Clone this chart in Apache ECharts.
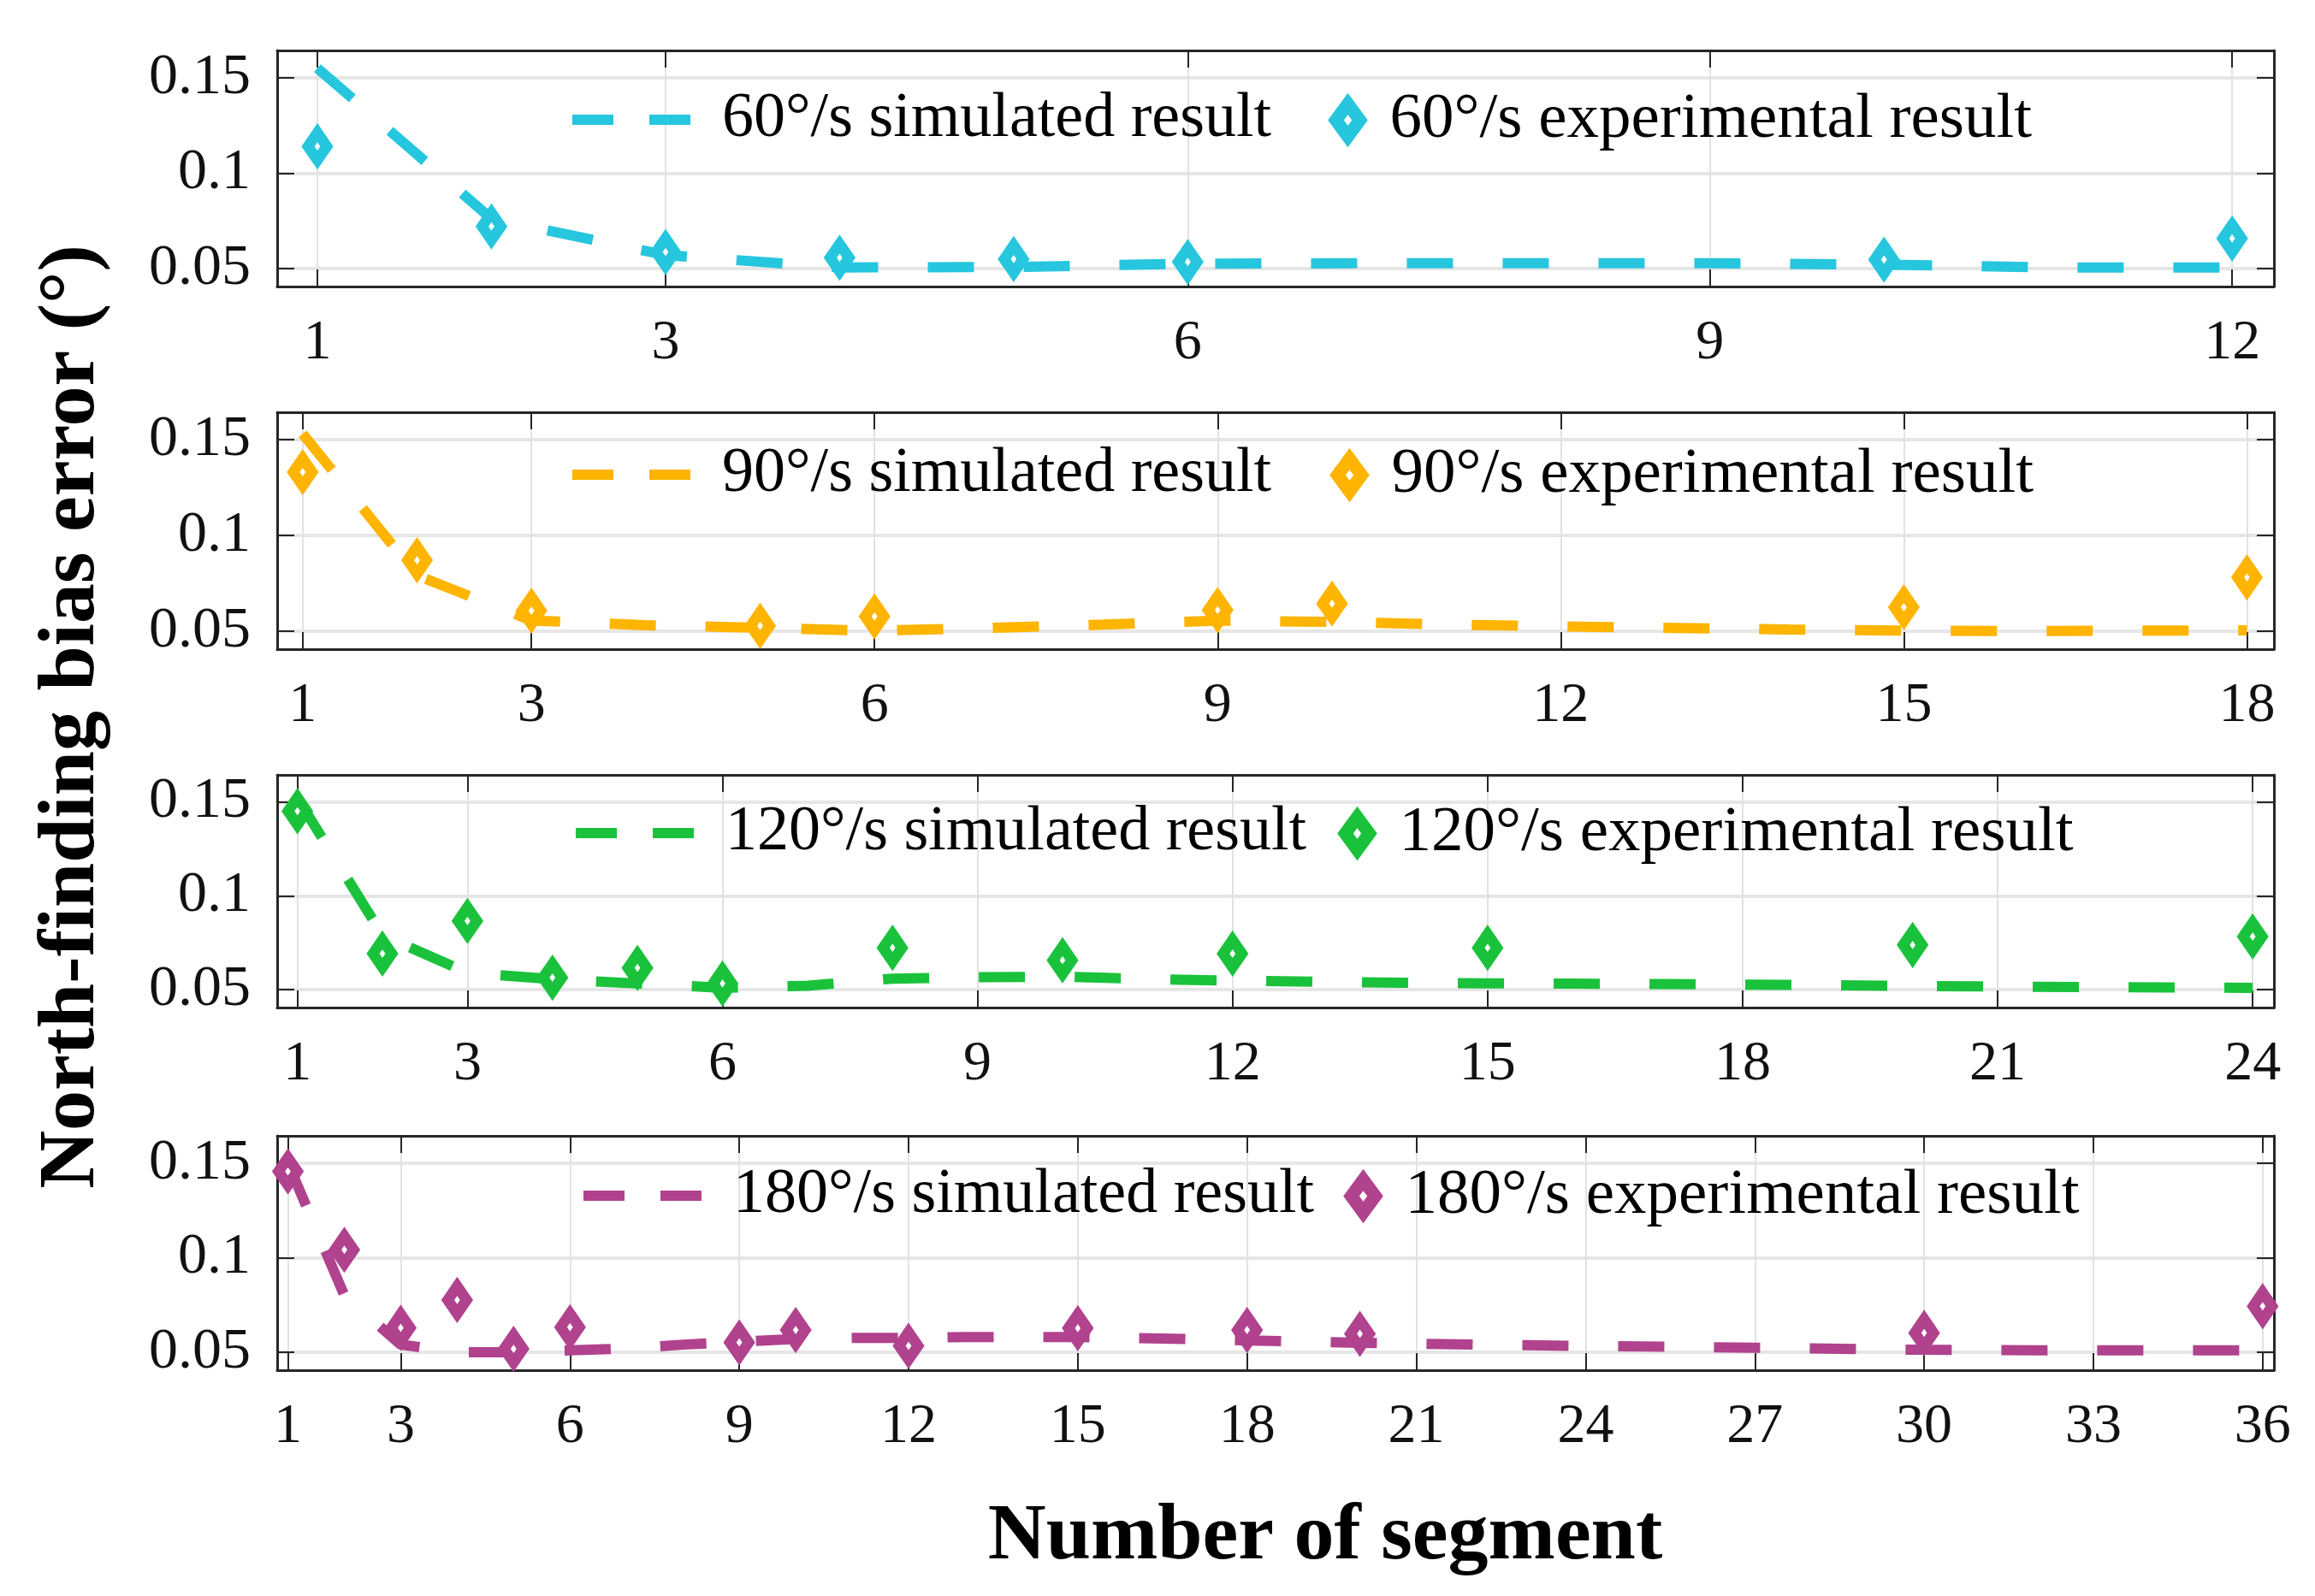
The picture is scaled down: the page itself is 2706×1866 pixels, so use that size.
<!DOCTYPE html>
<html>
<head>
<meta charset="utf-8">
<title>North-finding bias error vs number of segment</title>
<script src="https://cdn.jsdelivr.net/npm/echarts@6.0.0/dist/echarts.min.js"></script>
<style>
  html, body { margin: 0; padding: 0; background: #fff; }
  #chart { width: 2706px; height: 1866px; }
</style>
</head>
<body>
<div id="chart"></div>
<script>
// rates of the four panels
var rates = ['60°/s', '90°/s', '120°/s', '180°/s'];

// simulated result, one value per segment count 1..N
var sim60 = [0.155, 0.076, 0.057, 0.0505, 0.0507, 0.0525, 0.0527, 0.0527, 0.0527, 0.052, 0.0505, 0.0505];
var sim90 = [0.153, 0.079, 0.0555, 0.053, 0.0517, 0.0501, 0.0516, 0.0534, 0.0554, 0.0548, 0.0534, 0.0524,
             0.0516, 0.0508, 0.0502, 0.050, 0.0502, 0.0503];
var sim120 = [0.152, 0.079, 0.059, 0.0556, 0.0533, 0.051, 0.0521, 0.0559, 0.0566, 0.057, 0.0556, 0.0548,
              0.0542, 0.0537, 0.0534, 0.0532, 0.053, 0.0527, 0.0524, 0.052, 0.0517, 0.0514, 0.0512, 0.051];
var sim180 = [0.150, 0.080, 0.054, 0.050, 0.050, 0.051, 0.052, 0.054, 0.0555, 0.057, 0.0575, 0.0575,
              0.058, 0.058, 0.058, 0.0575, 0.057, 0.0562, 0.0556, 0.055, 0.0545, 0.054, 0.0537, 0.0533,
              0.053, 0.0527, 0.0524, 0.052, 0.0516, 0.0513, 0.0511, 0.051, 0.051, 0.051, 0.051, 0.051];

// experimental result: segment counts and values
var expSeg60 = [1, 2, 3, 4, 5, 6, 10, 12];
var exp60 = [0.114, 0.072, 0.0586, 0.0556, 0.0549, 0.0534, 0.0546, 0.0657];
var expSeg90 = [1, 2, 3, 5, 6, 9, 10, 15, 18];
var exp90 = [0.133, 0.087, 0.0606, 0.0527, 0.0576, 0.0609, 0.0643, 0.0624, 0.078];
var expSeg120 = [1, 2, 3, 4, 5, 6, 8, 10, 12, 15, 20, 24];
var exp120 = [0.145, 0.0692, 0.0866, 0.0564, 0.0616, 0.0533, 0.0723, 0.0657, 0.0692, 0.0723, 0.0738, 0.0783];
var expSeg180 = [1, 2, 3, 4, 5, 6, 9, 10, 12, 15, 18, 20, 30, 36];
var exp180 = [0.1455, 0.1041, 0.0629, 0.0776, 0.0518, 0.0632, 0.0552, 0.0617, 0.0534, 0.0627, 0.0617, 0.0597, 0.0602, 0.0743];

// tick labels
var xTicks60 = [1, 3, 6, 9, 12];
var xTicks90 = [1, 3, 6, 9, 12, 15, 18];
var xTicks120 = [1, 3, 6, 9, 12, 15, 18, 21, 24];
var xTicks180 = [1, 3, 6, 9, 12, 15, 18, 21, 24, 27, 30, 33, 36];
var yTicks = [0.05, 0.1, 0.15];

var sims = [sim60, sim90, sim120, sim180];
var expSegs = [expSeg60, expSeg90, expSeg120, expSeg180];
var exps = [exp60, exp90, exp120, exp180];
var xTicks = [xTicks60, xTicks90, xTicks120, xTicks180];
var colors = ['#26c6de', '#ffb400', '#1ac23c', '#b0428e'];

// panel placement (px) and axis extents
var layout = [
    { top: 59,   height: 276, xMin: 0.769, xMax: 12.24, legY: 140,  simLeft: 669, expLeft: 1554 },
    { top: 482,  height: 277, xMin: 0.777, xMax: 18.236, legY: 555, simLeft: 669, expLeft: 1556 },
    { top: 906,  height: 272, xMin: 0.762, xMax: 24.25, legY: 974,  simLeft: 673, expLeft: 1565 },
    { top: 1328, height: 274, xMin: 0.81,  xMax: 36.2,  legY: 1398, simLeft: 682, expLeft: 1572 }
];
var yMin = 0.0405, yMax = 0.1643;

var serif = '"Liberation Serif", "Times New Roman", serif';
var axisDark = '#262626';
// two dashes, like the plotted dashed line
var dashIcon = 'path://M0 0H48V12H0Z M90 0H138V12H90Z';

var grids = [], xAxes = [], yAxes = [], series = [], legends = [];

for (let i = 0; i < 4; i++) {
    let L = layout[i];
    grids.push({ left: 324, width: 2334, top: L.top, height: L.height });

    let xBase = {
        type: 'value', gridIndex: i, min: L.xMin, max: L.xMax,
        axisLine: { show: true, onZero: false, lineStyle: { color: axisDark, width: 3 } },
        axisTick: { show: true, inside: true, length: 20, customValues: xTicks[i], lineStyle: { color: axisDark, width: 2 } }
    };
    xAxes.push(Object.assign({}, xBase, {
        position: 'bottom',
        axisLabel: { customValues: xTicks[i], margin: 34, fontSize: 66, fontFamily: serif, color: '#111' },
        splitLine: { show: true, lineStyle: { color: '#e2e2e2', width: 2 } }
    }));
    xAxes.push(Object.assign({}, xBase, {
        position: 'top',
        axisLabel: { show: false },
        splitLine: { show: false }
    }));

    let yBase = {
        type: 'value', gridIndex: i, min: yMin, max: yMax,
        axisLine: { show: true, onZero: false, lineStyle: { color: axisDark, width: 3 } },
        axisTick: { show: true, inside: true, length: 20, customValues: yTicks, lineStyle: { color: axisDark, width: 2 } }
    };
    yAxes.push(Object.assign({}, yBase, {
        position: 'left',
        axisLabel: { customValues: yTicks, margin: 31, fontSize: 68, fontFamily: serif, color: '#111',
                     formatter: function (v) { return String(+v.toFixed(2)); } },
        splitLine: { show: true, lineStyle: { color: '#e6e6e6', width: 4 } }
    }));
    yAxes.push(Object.assign({}, yBase, {
        position: 'right',
        axisLabel: { show: false },
        splitLine: { show: false }
    }));

    let simName = rates[i] + ' simulated result';
    let expName = rates[i] + ' experimental result';

    series.push({
        type: 'line', name: simName, xAxisIndex: 2 * i, yAxisIndex: 2 * i,
        data: sims[i].map(function (v, k) { return [k + 1, v]; }),
        symbol: 'none',
        lineStyle: { color: colors[i], width: 12, type: [54, 58], cap: 'butt' },
        itemStyle: { color: colors[i] },
        z: 2
    });
    series.push({
        type: 'scatter', name: expName, xAxisIndex: 2 * i, yAxisIndex: 2 * i,
        data: expSegs[i].map(function (s, k) { return [s, exps[i][k]]; }),
        symbol: 'diamond', symbolSize: [22, 32],
        itemStyle: { color: '#fff', borderColor: colors[i], borderWidth: 13, opacity: 1 },
        z: 3
    });

    legends.push({
        data: [{ name: simName, icon: dashIcon }], left: L.simLeft, top: L.legY - 37, padding: 0,
        itemWidth: 138, itemHeight: 12, selectedMode: false,
        itemStyle: { color: colors[i], borderWidth: 0 },
        textStyle: { fontSize: 74, fontFamily: serif, color: '#000', padding: [0, 0, 0, 32] }
    });
    legends.push({
        data: [expName], left: L.expLeft, top: L.legY - 37, padding: 0,
        itemWidth: 28, itemHeight: 38, selectedMode: false,
        itemStyle: { borderWidth: 15 },
        textStyle: { fontSize: 75, fontFamily: serif, color: '#000', padding: [0, 0, 0, 30] }
    });
}

var myChart = echarts.init(document.getElementById('chart'));

option = {
    backgroundColor: '#fff',
    animation: false,
    grid: grids,
    xAxis: xAxes,
    yAxis: yAxes,
    legend: legends,
    series: series,
    graphic: [
        {
            type: 'text', x: 1549, y: 1798,
            style: { text: 'Number of segment', font: 'bold 94px ' + serif, fill: '#000',
                     align: 'center', verticalAlign: 'middle', textAlign: 'center', textVerticalAlign: 'middle' }
        },
        {
            type: 'text', x: 85, y: 838, rotation: Math.PI / 2,
            style: { text: 'North-finding bias error (°)', font: 'bold 94px ' + serif, fill: '#000',
                     align: 'center', verticalAlign: 'middle', textAlign: 'center', textVerticalAlign: 'middle' }
        }
    ]
};

myChart.setOption(option);
</script>
</body>
</html>
